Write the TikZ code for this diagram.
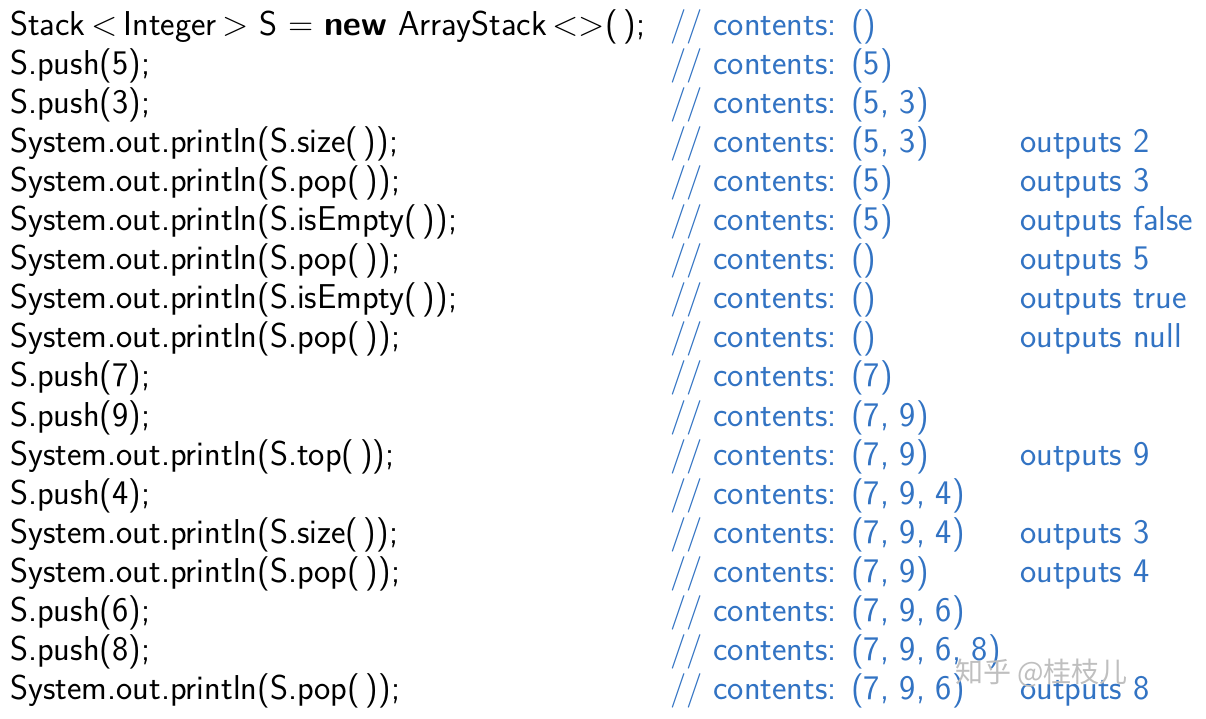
\documentclass[tikz,border=0pt]{standalone}
\usepackage{fontspec}
\newfontfamily\cjk{Noto Sans CJK SC}
\definecolor{cblue}{RGB}{50,115,195}
\begin{document}
\begin{tikzpicture}[x=1pt,y=1pt,
  code/.style={anchor=base west,inner sep=0pt,font=\fontsize{34.5}{40}\sffamily},
  cmt/.style={code,text=cblue}]
\useasboundingbox (0,0) rectangle (1206,718);
\def\lines{{"Stack\,\textless\,Integer\,\textgreater\ S = \textbf{new} ArrayStack\,\textless\textgreater(\,);","S.push(5);","S.push(3);","System.out.println(S.size(\,));","System.out.println(S.pop(\,));","System.out.println(S.isEmpty(\,));","System.out.println(S.pop(\,));","System.out.println(S.isEmpty(\,));","System.out.println(S.pop(\,));","S.push(7);","S.push(9);","System.out.println(S.top(\,));","S.push(4);","System.out.println(S.size(\,));","System.out.println(S.pop(\,));","S.push(6);","S.push(8);","System.out.println(S.pop(\,));"}}
\def\conts{{"()","(5)","(5, 3)","(5, 3)","(5)","(5)","()","()","()","(7)","(7, 9)","(7, 9)","(7, 9, 4)","(7, 9, 4)","(7, 9)","(7, 9, 6)","(7, 9, 6, 8)","(7, 9, 6)"}}
\def\outs{{"","","","outputs 2","outputs 3","outputs false","outputs 5","outputs true","outputs null","","","outputs 9","","outputs 3","outputs 4","","","outputs 8"}}
\foreach \i in {0,...,17}{
  \pgfmathsetmacro\yy{718-36-39*\i}
  \node[code] (l\i) at (10,\yy) {\pgfmathparse{\lines[\i]}\pgfmathresult};
  \node[cmt] (c\i) at (670,\yy) {// contents: \pgfmathparse{\conts[\i]}\pgfmathresult};
  \node[cmt] (o\i) at (1020,\yy) {\pgfmathparse{\outs[\i]}\pgfmathresult};
}
\node[anchor=base west,inner sep=0pt,text=black!25,font=\fontsize{28}{32}\cjk] (wm) at (955,36) {知乎 @桂枝儿};
\end{tikzpicture}
\end{document}
